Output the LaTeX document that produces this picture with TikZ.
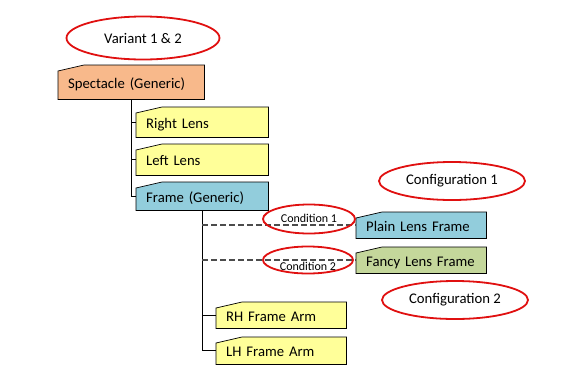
\documentclass[tikz,border=0pt]{standalone}
\usepackage{fontspec}
\setmainfont{Carlito}
\usetikzlibrary{shapes.geometric,backgrounds}

\definecolor{partorange}{HTML}{F8B98B}
\definecolor{partyellow}{HTML}{FFFF99}
\definecolor{partblue}{HTML}{92CDDC}
\definecolor{partgreen}{HTML}{C4D79B}
\definecolor{markred}{HTML}{E01010}

\tikzset{
  part/.style={rectangle,anchor=north west,
    minimum width=#1,text width=#1-20pt,inner xsep=10pt,inner ysep=0pt,align=left,
    text height=15pt,text depth=3pt,
    font=\fontsize{14.7}{16}\selectfont},
  tab/.style={fill=#1,draw=black,line width=.7pt},
  redmark/.style={ellipse,draw=markred,line width=1.8pt,inner sep=0pt},
  bigmark/.style={redmark,font=\fontsize{14.7}{16}\selectfont},
  cond/.style={font=\fontsize{12}{14}\selectfont,inner sep=0pt},
  link/.style={draw=black,line width=.8pt},
  alt/.style={draw=black!70,line width=1.5pt,dash pattern=on 5.5pt off 3.5pt}
}

\begin{document}
\begin{tikzpicture}[x=1pt,y=-1pt]
  \useasboundingbox (0,0) rectangle (586,378);
  % parts
  \node[part=146pt,minimum height=34pt] (spec) at (58,65) {Spectacle (Generic)};
  \node[part=132pt,minimum height=30pt] (rlens) at (136,107) {Right Lens};
  \node[part=132pt,minimum height=31pt] (llens) at (136,144) {Left Lens};
  \node[part=132pt,minimum height=28pt] (frame) at (136,182) {Frame (Generic)};
  \node[part=130pt,minimum height=26pt] (plain) at (356,212) {Plain Lens Frame};
  \node[part=130pt,minimum height=26pt] (fancy) at (356,247) {Fancy Lens Frame};
  \node[part=130pt,minimum height=26pt] (rharm) at (216,302) {RH Frame Arm};
  \node[part=130pt,minimum height=27pt] (lharm) at (216,337) {LH Frame Arm};
  % tabbed boxes behind the texts
  \begin{scope}[on background layer]
    \foreach \n/\c in {spec/partorange,rlens/partyellow,llens/partyellow,frame/partblue,
                       plain/partblue,fancy/partgreen,rharm/partyellow,lharm/partyellow}
      \draw[tab=\c] ([yshift=-6pt]\n.north west) -- ([xshift=26pt]\n.north west)
        -- (\n.north east) -- (\n.south east) -- (\n.south west) -- cycle;
  \end{scope}
  % tree lines
  \draw[link] (spec.south) |- (frame.west);
  \draw[link] (rlens.west -| spec.south) -- (rlens.west);
  \draw[link] (llens.west -| spec.south) -- (llens.west);
  \draw[link] (frame.south) |- (lharm.west);
  \draw[link] (rharm.west -| frame.south) -- (rharm.west);
  \draw[alt] (plain.west -| frame.south) -- (plain.west);
  \draw[alt] (fancy.west -| frame.south) -- (fancy.west);
  % red marks
  \node[bigmark,minimum width=153pt,minimum height=43pt] (var) at (143,38) {Variant 1 \& 2};
  \node[bigmark,minimum width=146pt,minimum height=38pt] (conf1) at (452,181) {Configuration 1};
  \node[bigmark,minimum width=146pt,minimum height=38pt] (conf2) at (455,300) {Configuration 2};
  \node[redmark,minimum width=92pt,minimum height=29pt] (c1) at (309,219) {};
  \node[redmark,minimum width=90pt,minimum height=27pt] (c2) at (308,260) {};
  \node[cond] (c1txt) at (309,218) {Condition 1};
  \node[cond] (c2txt) at (308,266) {Condition 2};
\end{tikzpicture}
\end{document}
